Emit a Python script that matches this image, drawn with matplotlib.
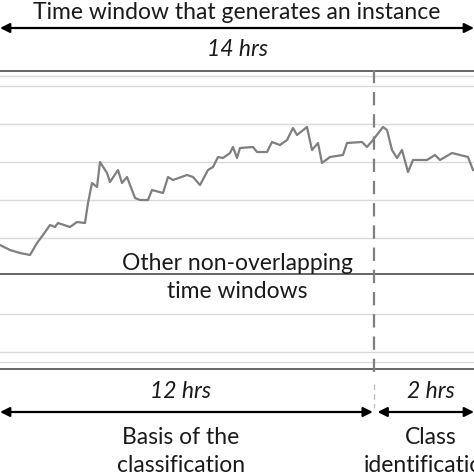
import numpy as np
import matplotlib
matplotlib.use("Agg")
from matplotlib import pyplot as plt

plt.rcParams['font.family'] = ['Lato', 'DejaVu Sans']

# price trace: time (hours) and level (arbitrary units, higher = up)
px_per_hr = 31.2
trace_x = [0, 10, 20, 30, 37, 43, 50, 55, 58, 70, 77, 85, 88, 92, 97, 100, 107, 110,
           118, 122, 127, 135, 140, 148, 152, 163, 168, 173, 187, 193, 200, 208, 213,
           218, 223, 230, 233, 237, 240, 253, 257, 267, 272, 280, 287, 293, 297, 307,
           312, 318, 322, 330, 343, 347, 362, 367, 373, 383, 387, 392, 397, 402, 408,
           413, 427, 435, 440, 452, 460, 468, 473]
trace_y = [245, 250, 253, 255, 243, 235, 225, 227, 223, 227, 222, 223, 203, 183, 187,
           162, 173, 182, 170, 183, 177, 198, 200, 200, 190, 193, 177, 180, 175, 177,
           185, 170, 167, 157, 158, 153, 147, 158, 148, 147, 152, 152, 142, 145, 140,
           128, 135, 127, 150, 143, 163, 157, 155, 143, 142, 147, 140, 127, 130, 150,
           158, 150, 172, 160, 160, 155, 160, 153, 155, 157, 170]
hours = np.array(trace_x) / px_per_hr
level = 474 - np.array(trace_y)

light_grid = [76, 86, 124, 162, 200, 238, 314, 352, 362]
dark_lines = [71, 274, 369]
split_hr = 12

W = H = 474
fig = plt.figure(figsize=(4.74, 4.74), dpi=100)
ax = fig.add_axes([0, 0, 1, 1])
ax.set_xlim(0, W / px_per_hr)
ax.set_ylim(0, H)
ax.axis('off')

for g in light_grid:
    ax.axhline(H - g, color='#d9d9d9', lw=1.0)
for g in dark_lines:
    ax.axhline(H - g, color='#595959', lw=1.3)

ax.plot(hours, level, color='#7f7f7f', lw=1.6)
ax.plot([split_hr, split_hr], [H - 372, H - 70], color='#7f7f7f', lw=1.6,
        ls=(0, (6, 4)))
ax.plot([split_hr, split_hr], [H - 384, H - 408], color='#bfbfbf', lw=1.0,
        ls=(0, (4, 3)))


def arrow(x0, x1, y):
    ax.annotate('', xy=(x1, H - y), xytext=(x0, H - y),
                arrowprops=dict(arrowstyle='<|-|>', color='black', lw=1.6,
                                mutation_scale=14, shrinkA=0, shrinkB=0))


arrow(0, W / px_per_hr, 28)
arrow(0, split_hr - 0.05, 412)
arrow(split_hr + 0.1, W / px_per_hr, 412)

fs = 16.5
kw = dict(ha='center', va='center', fontsize=fs, color='#1a1a1a')
ax.text(7.6, H - 12, 'Time window that generates an instance', **kw)
ax.text(7.6, H - 49, '14 hrs', style='italic', **kw)
ax.text(7.6, H - 263, 'Other non-overlapping', **kw)
ax.text(7.6, H - 292, 'time windows', **kw)
ax.text(5.8, H - 391, '12 hrs', style='italic', **kw)
ax.text(13.8, H - 391, '2 hrs', style='italic', **kw)
ax.text(5.8, H - 437, 'Basis of the', **kw)
ax.text(5.8, H - 465, 'classification', **kw)
ax.text(13.8, H - 437, 'Class', **kw)
ax.text(11.65, H - 465, 'identification', ha='left', va='center', fontsize=fs,
        color='#1a1a1a')

fig.savefig('out.png', dpi=100)
